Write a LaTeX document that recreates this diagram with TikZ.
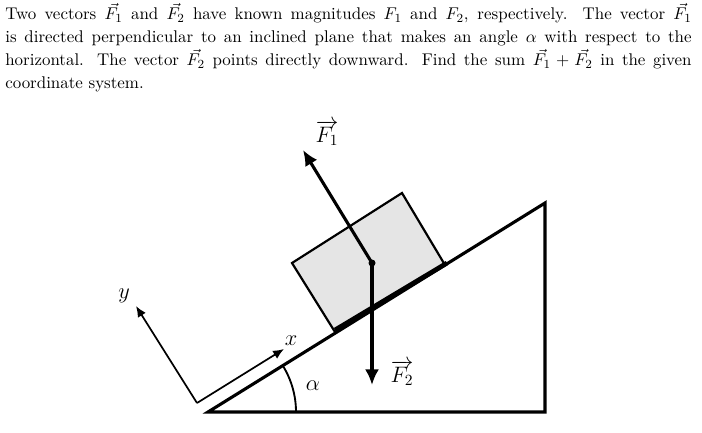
\documentclass[tikz,border=0pt]{standalone}
\usetikzlibrary{arrows.meta}
\begin{document}
\begin{tikzpicture}[x=0.644pt,y=-0.644pt,
  thk/.style={line width=2pt},
  vec/.style={line width=2pt,-{Latex[length=10pt,width=9pt]}},
  ax/.style={line width=1.1pt,-{Latex[length=7pt,width=6pt]}},
  lbl/.style={font=\Large}]
\useasboundingbox (0,0) rectangle (702,433);
\node[anchor=north west,inner sep=0pt,text width=442pt,align=justify,font=\fontsize{10.9}{14.8}\selectfont] (txt) at (5,3) {Two vectors $\vec{F_1}$ and $\vec{F_2}$ have known magnitudes $F_1$ and $F_2$, respectively. The vector $\vec{F_1}$\linebreak
is directed perpendicular to an inclined plane that makes an angle $\alpha$ with respect to the\linebreak
horizontal. The vector $\vec{F_2}$ points directly downward. Find the sum $\vec{F_1}+\vec{F_2}$ in the given\linebreak
coordinate system.};
\coordinate (A) at (208,412);
\coordinate (B) at (545,412);
\coordinate (C) at (545,203);
\draw[thk] (A) -- (B) -- (C) -- cycle;
\path[draw,line width=1.4pt,fill=gray!20] (292,263) coordinate (b1) -- (402,193) coordinate (b2) -- (445,265) coordinate (b3) -- (335,332) coordinate (b4) -- cycle;
\draw[line width=3pt] (335,330) -- (447,263);
\coordinate (P) at (372,263);
\coordinate (T1) at (303,150);
\coordinate (T2) at (372,385);
\draw[vec] (P) -- (T1);
\draw[vec] (P) -- (T2);
\fill (P) circle (3.5);
\node[lbl] (f1) at (327,133) {$\overrightarrow{F_1}$};
\node[lbl] (f2) at (402,373) {$\overrightarrow{F_2}$};
\coordinate (O) at (197,403);
\coordinate (X) at (284,349);
\coordinate (Y) at (136,306);
\draw[ax] (O) -- (X);
\draw[ax] (O) -- (Y);
\node[lbl] (xl) at (291,341) {$x$};
\node[lbl] (yl) at (124,296) {$y$};
\draw[line width=1.2pt] (296,412) arc[start angle=0,end angle=-31.8,radius=88];
\node[lbl] (al) at (313,386) {$\alpha$};
\end{tikzpicture}
\end{document}
